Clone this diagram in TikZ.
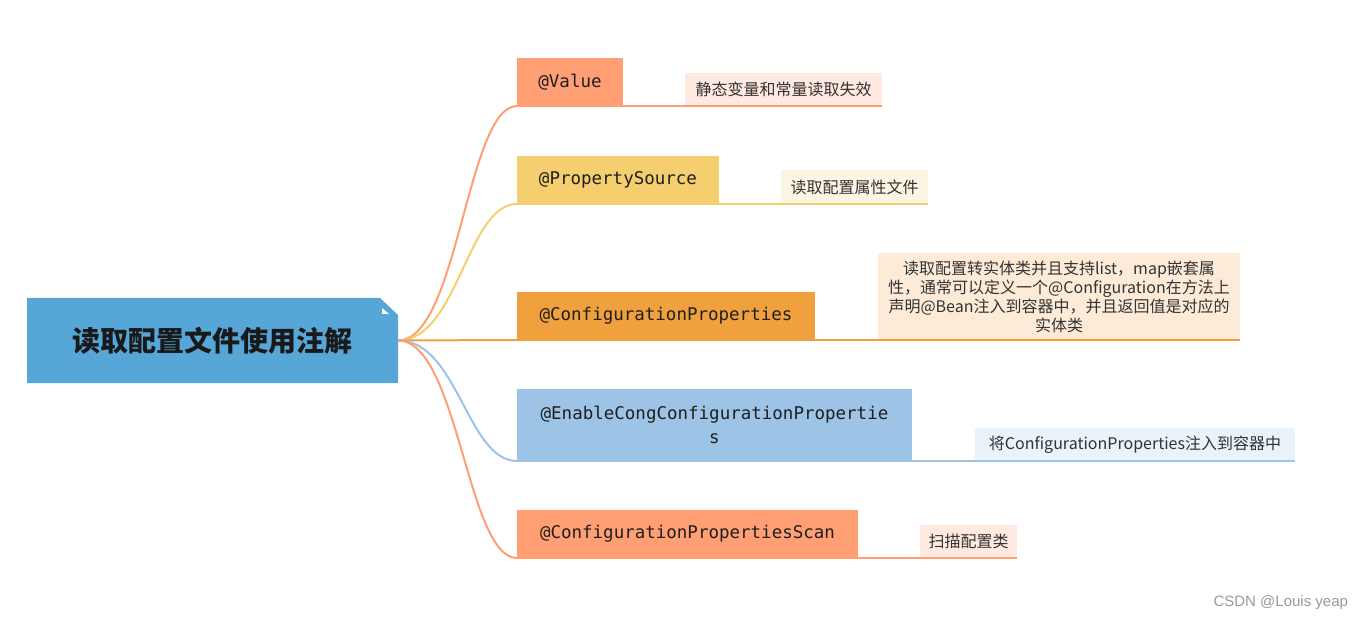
\documentclass[tikz,border=0pt]{standalone}
\usepackage{fontspec}
\setmainfont{Liberation Sans}
\newfontfamily\cjk{Noto Sans CJK SC}
\newfontfamily\codefont{DejaVu Sans Mono}
\definecolor{rootblue}{HTML}{56A6D7}
\definecolor{salmon}{HTML}{FF9F73}
\definecolor{salmonlight}{HTML}{FFE9E0}
\definecolor{sand}{HTML}{F5CF6F}
\definecolor{sandlight}{HTML}{FDF5E3}
\definecolor{amber}{HTML}{F0A03D}
\definecolor{amberlight}{HTML}{FDEBD8}
\definecolor{sky}{HTML}{9DC3E6}
\definecolor{skylight}{HTML}{EAF2FA}

\begin{document}
\begin{tikzpicture}[
  x=1pt, y=-1pt,
  every node/.style={inner sep=0pt, outer sep=0pt},
  branch/.style={anchor=south west, minimum height=48pt, text=black!88,
    font=\codefont\fontsize{17.5}{24}\selectfont},
  note/.style={anchor=south east, minimum height=33pt, text=black!80, align=center,
    font=\cjk\fontsize{16}{19}\selectfont},
  link/.style={line width=2pt},
  rule/.style={line width=2.5pt}
]
\useasboundingbox (0,0) rectangle (1364,617);

% root
\fill[rootblue] (27,298) -- (380,298) -- (398,315) -- (398,383) -- (27,383) -- cycle;
\fill[white] (382,308) -- (382,314) -- (389,314) -- cycle;
\node (root) at (212.5,340.5) [minimum width=371pt, minimum height=85pt,
  font=\cjk\bfseries\fontsize{28}{32}\selectfont, text=black!90] {读取配置文件使用注解};

% branches
\node[branch, fill=salmon, minimum width=106pt] (value) at (517,106) {@Value};
\node[branch, fill=sand, minimum width=202pt] (propsrc) at (517,204) {@PropertySource};
\node[branch, fill=amber, minimum width=298pt] (cfgprops) at (517,340) {@ConfigurationProperties};
\node[branch, fill=sky, minimum width=395pt, minimum height=72pt, align=center] (enable) at (517,461)
  {@EnableCongConfigurationPropertie\\s};
\node[branch, fill=salmon, minimum width=341pt] (scan) at (517,558) {@ConfigurationPropertiesScan};

% notes
\node[note, fill=salmonlight, minimum width=197pt] (valuenote) at (882,106) {静态变量和常量读取失效};
\node[note, fill=sandlight, minimum width=147pt, minimum height=34pt] (propsrcnote) at (928,204) {读取配置属性文件};
\node[note, fill=amberlight, minimum width=362pt, minimum height=87pt] (cfgnote) at (1240,340)
  {读取配置转实体类并且支持list，map嵌套属\\性，通常可以定义一个@Configuration在方法上\\声明@Bean注入到容器中，并且返回值是对应的\\实体类};
\node[note, fill=skylight, minimum width=320pt] (enablenote) at (1295,461) {将ConfigurationProperties注入到容器中};
\node[note, fill=salmonlight, minimum width=97pt] (scannote) at (1017,558) {扫描配置类};

% links
\draw[link, salmon] (root.east) .. controls +(60,0) and +(-50,0) .. (value.south west);
\draw[link, sand] (root.east) .. controls +(60,0) and +(-50,0) .. (propsrc.south west);
\draw[link, amber] (root.east) -- (cfgprops.south west);
\draw[link, sky] (root.east) .. controls +(60,0) and +(-50,0) .. (enable.south west);
\draw[link, salmon] (root.east) .. controls +(60,0) and +(-50,0) .. (scan.south west);

\draw[rule, salmon] (value.south west) -- (valuenote.south east);
\draw[rule, sand] (propsrc.south west) -- (propsrcnote.south east);
\draw[rule, amber] (cfgprops.south west) -- (cfgnote.south east);
\draw[rule, sky] (enable.south west) -- (enablenote.south east);
\draw[rule, salmon] (scan.south west) -- (scannote.south east);

\node[anchor=base east, text=black!40, font=\fontsize{15}{17}\selectfont] (mark) at (1348,606) {CSDN @Louis yeap};
\end{tikzpicture}
\end{document}
